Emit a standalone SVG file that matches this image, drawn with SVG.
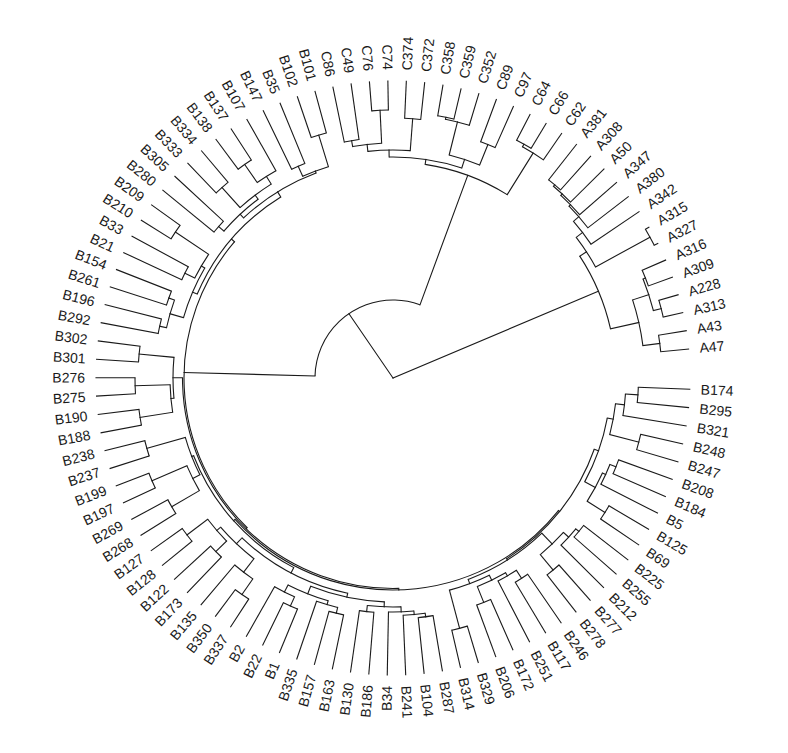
<svg xmlns="http://www.w3.org/2000/svg" width="788" height="753" viewBox="0 0 788 753">
<style>
.t line,.t circle{stroke:#1a1a1a;stroke-width:1.1;fill:none;stroke-linecap:square}
.t circle{stroke-linecap:butt}
text{font-family:"Liberation Sans",Arial,sans-serif;font-size:14px;fill:#1a1a1a}
.l{text-anchor:end}
</style>
<rect width="788" height="753" fill="#fff"/>
<g transform="translate(393 378)">
<g id="edges" class="t">
<line x1="0" x2="223" transform="rotate(-22.92)"/>
<circle r="223" pathLength="360" stroke-dasharray="20.40 360" transform="rotate(-33.12)"/>
<line x1="223" x2="252" transform="rotate(-12.72)"/>
<circle r="252" pathLength="360" stroke-dasharray="10.67 360" transform="rotate(-18.05)"/>
<line x1="252" x2="269" transform="rotate(-7.38)"/>
<circle r="269" pathLength="360" stroke-dasharray="3.56 360" transform="rotate(-9.16)"/>
<line x1="269" x2="297" transform="rotate(-5.60)"/>
<line x1="269" x2="297" transform="rotate(-9.16)"/>
<line x1="252" x2="269" transform="rotate(-18.05)"/>
<circle r="269" pathLength="360" stroke-dasharray="7.11 360" transform="rotate(-21.61)"/>
<line x1="269" x2="277" transform="rotate(-14.50)"/>
<circle r="277" pathLength="360" stroke-dasharray="3.55 360" transform="rotate(-16.27)"/>
<line x1="277" x2="297" transform="rotate(-12.72)"/>
<line x1="277" x2="297" transform="rotate(-16.27)"/>
<line x1="269" x2="271.5" transform="rotate(-21.61)"/>
<circle r="271.5" pathLength="360" stroke-dasharray="3.56 360" transform="rotate(-23.39)"/>
<line x1="271.5" x2="297" transform="rotate(-19.83)"/>
<line x1="271.5" x2="297" transform="rotate(-23.39)"/>
<line x1="223" x2="231" transform="rotate(-33.12)"/>
<circle r="231" pathLength="360" stroke-dasharray="8.78 360" transform="rotate(-37.51)"/>
<line x1="231" x2="293" transform="rotate(-28.73)"/>
<circle r="293" pathLength="360" stroke-dasharray="3.56 360" transform="rotate(-30.51)"/>
<line x1="293" x2="297" transform="rotate(-26.95)"/>
<line x1="293" x2="297" transform="rotate(-30.51)"/>
<line x1="231" x2="239" transform="rotate(-37.51)"/>
<circle r="239" pathLength="360" stroke-dasharray="6.90 360" transform="rotate(-40.96)"/>
<line x1="239" x2="297" transform="rotate(-34.06)"/>
<line x1="239" x2="246" transform="rotate(-40.96)"/>
<circle r="246" pathLength="360" stroke-dasharray="6.68 360" transform="rotate(-44.30)"/>
<line x1="246" x2="297" transform="rotate(-37.62)"/>
<line x1="246" x2="248" transform="rotate(-44.30)"/>
<circle r="248" pathLength="360" stroke-dasharray="6.23 360" transform="rotate(-47.41)"/>
<line x1="248" x2="297" transform="rotate(-41.18)"/>
<line x1="248" x2="250" transform="rotate(-47.41)"/>
<circle r="250" pathLength="360" stroke-dasharray="5.34 360" transform="rotate(-50.08)"/>
<line x1="250" x2="297" transform="rotate(-44.74)"/>
<line x1="250" x2="252" transform="rotate(-50.08)"/>
<circle r="252" pathLength="360" stroke-dasharray="3.55 360" transform="rotate(-51.85)"/>
<line x1="252" x2="297" transform="rotate(-48.30)"/>
<line x1="252" x2="297" transform="rotate(-51.85)"/>
<line x1="0" x2="78" transform="rotate(-124.4)"/>
<circle r="78" pathLength="360" stroke-dasharray="108.74 360" transform="rotate(-178.5)"/>
<line x1="78" x2="216" transform="rotate(-69.76)"/>
<circle r="216" pathLength="360" stroke-dasharray="23.36 360" transform="rotate(-81.44)"/>
<line x1="216" x2="221" transform="rotate(-81.44)"/>
<circle r="221" pathLength="360" stroke-dasharray="19.13 360" transform="rotate(-91.0)"/>
<line x1="221" x2="228" transform="rotate(-91.0)"/>
<circle r="228" pathLength="360" stroke-dasharray="10.67 360" transform="rotate(-96.33)"/>
<line x1="228" x2="235" transform="rotate(-96.33)"/>
<circle r="235" pathLength="360" stroke-dasharray="7.12 360" transform="rotate(-99.89)"/>
<line x1="235" x2="241" transform="rotate(-99.89)"/>
<circle r="241" pathLength="360" stroke-dasharray="3.56 360" transform="rotate(-101.67)"/>
<line x1="241" x2="297" transform="rotate(-98.11)"/>
<line x1="241" x2="297" transform="rotate(-101.67)"/>
<line x1="235" x2="268" transform="rotate(-92.77)"/>
<circle r="268" pathLength="360" stroke-dasharray="3.56 360" transform="rotate(-94.55)"/>
<line x1="268" x2="297" transform="rotate(-90.99)"/>
<line x1="268" x2="297" transform="rotate(-94.55)"/>
<line x1="228" x2="260" transform="rotate(-85.66)"/>
<circle r="260" pathLength="360" stroke-dasharray="3.55 360" transform="rotate(-87.43)"/>
<line x1="260" x2="297" transform="rotate(-83.88)"/>
<line x1="260" x2="297" transform="rotate(-87.43)"/>
<line x1="221" x2="230" transform="rotate(-71.87)"/>
<circle r="230" pathLength="360" stroke-dasharray="8.0 360" transform="rotate(-75.87)"/>
<line x1="230" x2="264" transform="rotate(-75.87)"/>
<circle r="264" pathLength="360" stroke-dasharray="5.34 360" transform="rotate(-78.54)"/>
<line x1="264" x2="266" transform="rotate(-78.54)"/>
<circle r="266" pathLength="360" stroke-dasharray="3.56 360" transform="rotate(-80.32)"/>
<line x1="266" x2="297" transform="rotate(-76.76)"/>
<line x1="266" x2="297" transform="rotate(-80.32)"/>
<line x1="264" x2="297" transform="rotate(-73.20)"/>
<line x1="230" x2="252" transform="rotate(-67.87)"/>
<circle r="252" pathLength="360" stroke-dasharray="3.55 360" transform="rotate(-69.64)"/>
<line x1="252" x2="297" transform="rotate(-66.09)"/>
<line x1="252" x2="297" transform="rotate(-69.64)"/>
<line x1="216" x2="265" transform="rotate(-58.08)"/>
<circle r="265" pathLength="360" stroke-dasharray="5.34 360" transform="rotate(-60.75)"/>
<line x1="265" x2="297" transform="rotate(-55.41)"/>
<line x1="265" x2="268" transform="rotate(-60.75)"/>
<circle r="268" pathLength="360" stroke-dasharray="3.56 360" transform="rotate(-62.53)"/>
<line x1="268" x2="297" transform="rotate(-58.97)"/>
<line x1="268" x2="297" transform="rotate(-62.53)"/>
<line x1="78" x2="209" transform="rotate(-178.5)"/>
<circle r="209" pathLength="360" stroke-dasharray="86.46 360" transform="rotate(-225.76)"/>
<line x1="209" x2="213" transform="rotate(-139.3)"/>
<circle r="213" pathLength="360" stroke-dasharray="35.01 360" transform="rotate(-156.8)"/>
<line x1="213" x2="219" transform="rotate(-121.79)"/>
<circle r="219" pathLength="360" stroke-dasharray="22.46 360" transform="rotate(-133.02)"/>
<line x1="219" x2="221" transform="rotate(-110.56)"/>
<circle r="221" pathLength="360" stroke-dasharray="7.12 360" transform="rotate(-114.12)"/>
<line x1="221" x2="254" transform="rotate(-107.0)"/>
<circle r="254" pathLength="360" stroke-dasharray="3.56 360" transform="rotate(-108.78)"/>
<line x1="254" x2="297" transform="rotate(-105.22)"/>
<line x1="254" x2="297" transform="rotate(-108.78)"/>
<line x1="221" x2="232" transform="rotate(-114.12)"/>
<circle r="232" pathLength="360" stroke-dasharray="3.56 360" transform="rotate(-115.90)"/>
<line x1="232" x2="297" transform="rotate(-112.34)"/>
<line x1="232" x2="297" transform="rotate(-115.90)"/>
<line x1="219" x2="224" transform="rotate(-133.02)"/>
<circle r="224" pathLength="360" stroke-dasharray="12.01 360" transform="rotate(-139.03)"/>
<line x1="224" x2="229" transform="rotate(-127.02)"/>
<circle r="229" pathLength="360" stroke-dasharray="9.78 360" transform="rotate(-131.91)"/>
<line x1="229" x2="238" transform="rotate(-122.13)"/>
<circle r="238" pathLength="360" stroke-dasharray="5.33 360" transform="rotate(-124.79)"/>
<line x1="238" x2="297" transform="rotate(-119.46)"/>
<line x1="238" x2="260" transform="rotate(-124.79)"/>
<circle r="260" pathLength="360" stroke-dasharray="3.56 360" transform="rotate(-126.57)"/>
<line x1="260" x2="297" transform="rotate(-123.01)"/>
<line x1="260" x2="297" transform="rotate(-126.57)"/>
<line x1="229" x2="256" transform="rotate(-131.91)"/>
<circle r="256" pathLength="360" stroke-dasharray="3.56 360" transform="rotate(-133.69)"/>
<line x1="256" x2="297" transform="rotate(-130.13)"/>
<line x1="256" x2="297" transform="rotate(-133.69)"/>
<line x1="224" x2="231" transform="rotate(-139.03)"/>
<circle r="231" pathLength="360" stroke-dasharray="3.55 360" transform="rotate(-140.80)"/>
<line x1="231" x2="297" transform="rotate(-137.25)"/>
<line x1="231" x2="297" transform="rotate(-140.80)"/>
<line x1="213" x2="218" transform="rotate(-156.8)"/>
<circle r="218" pathLength="360" stroke-dasharray="14.23 360" transform="rotate(-163.93)"/>
<line x1="218" x2="222" transform="rotate(-149.7)"/>
<circle r="222" pathLength="360" stroke-dasharray="7.12 360" transform="rotate(-153.26)"/>
<line x1="222" x2="262" transform="rotate(-146.14)"/>
<circle r="262" pathLength="360" stroke-dasharray="3.56 360" transform="rotate(-147.92)"/>
<line x1="262" x2="297" transform="rotate(-144.36)"/>
<line x1="262" x2="297" transform="rotate(-147.92)"/>
<line x1="222" x2="233" transform="rotate(-153.26)"/>
<circle r="233" pathLength="360" stroke-dasharray="3.56 360" transform="rotate(-155.04)"/>
<line x1="233" x2="297" transform="rotate(-151.48)"/>
<line x1="233" x2="297" transform="rotate(-155.04)"/>
<line x1="218" x2="232" transform="rotate(-163.93)"/>
<circle r="232" pathLength="360" stroke-dasharray="7.12 360" transform="rotate(-167.49)"/>
<line x1="232" x2="238" transform="rotate(-160.37)"/>
<circle r="238" pathLength="360" stroke-dasharray="3.56 360" transform="rotate(-162.15)"/>
<line x1="238" x2="297" transform="rotate(-158.59)"/>
<line x1="238" x2="297" transform="rotate(-162.15)"/>
<line x1="232" x2="239" transform="rotate(-167.49)"/>
<circle r="239" pathLength="360" stroke-dasharray="3.56 360" transform="rotate(-169.27)"/>
<line x1="239" x2="297" transform="rotate(-165.71)"/>
<line x1="239" x2="297" transform="rotate(-169.27)"/>
<line x1="209" x2="210.5" transform="rotate(-225.76)"/>
<circle r="210.5" pathLength="360" stroke-dasharray="91.62 360" transform="rotate(-271.57)"/>
<line x1="210.5" x2="220" transform="rotate(-179.95)"/>
<circle r="220" pathLength="360" stroke-dasharray="10.67 360" transform="rotate(-185.28)"/>
<line x1="220" x2="255" transform="rotate(-174.61)"/>
<circle r="255" pathLength="360" stroke-dasharray="3.55 360" transform="rotate(-176.38)"/>
<line x1="255" x2="297" transform="rotate(-172.83)"/>
<line x1="255" x2="297" transform="rotate(-176.38)"/>
<line x1="220" x2="223" transform="rotate(-185.28)"/>
<circle r="223" pathLength="360" stroke-dasharray="7.12 360" transform="rotate(-188.84)"/>
<line x1="223" x2="258" transform="rotate(-181.72)"/>
<circle r="258" pathLength="360" stroke-dasharray="3.56 360" transform="rotate(-183.50)"/>
<line x1="258" x2="297" transform="rotate(-179.94)"/>
<line x1="258" x2="297" transform="rotate(-183.50)"/>
<line x1="223" x2="256" transform="rotate(-188.84)"/>
<circle r="256" pathLength="360" stroke-dasharray="3.56 360" transform="rotate(-190.62)"/>
<line x1="256" x2="297" transform="rotate(-187.06)"/>
<line x1="256" x2="297" transform="rotate(-190.62)"/>
<line x1="210.5" x2="212" transform="rotate(-271.57)"/>
<circle r="212" pathLength="360" stroke-dasharray="99.47 360" transform="rotate(-321.3)"/>
<line x1="212" x2="214" transform="rotate(-221.83)"/>
<circle r="214" pathLength="360" stroke-dasharray="41.09 360" transform="rotate(-242.38)"/>
<line x1="214" x2="216" transform="rotate(-201.29)"/>
<circle r="216" pathLength="360" stroke-dasharray="10.68 360" transform="rotate(-206.63)"/>
<line x1="216" x2="256" transform="rotate(-195.95)"/>
<circle r="256" pathLength="360" stroke-dasharray="3.56 360" transform="rotate(-197.73)"/>
<line x1="256" x2="297" transform="rotate(-194.17)"/>
<line x1="256" x2="297" transform="rotate(-197.73)"/>
<line x1="216" x2="224" transform="rotate(-206.63)"/>
<circle r="224" pathLength="360" stroke-dasharray="7.12 360" transform="rotate(-210.19)"/>
<line x1="224" x2="262" transform="rotate(-203.07)"/>
<circle r="262" pathLength="360" stroke-dasharray="3.56 360" transform="rotate(-204.85)"/>
<line x1="262" x2="297" transform="rotate(-201.29)"/>
<line x1="262" x2="297" transform="rotate(-204.85)"/>
<line x1="224" x2="256" transform="rotate(-210.19)"/>
<circle r="256" pathLength="360" stroke-dasharray="3.55 360" transform="rotate(-211.96)"/>
<line x1="256" x2="297" transform="rotate(-208.41)"/>
<line x1="256" x2="297" transform="rotate(-211.96)"/>
<line x1="214" x2="220" transform="rotate(-242.38)"/>
<circle r="220" pathLength="360" stroke-dasharray="31.47 360" transform="rotate(-258.11)"/>
<line x1="220" x2="228" transform="rotate(-226.64)"/>
<circle r="228" pathLength="360" stroke-dasharray="11.56 360" transform="rotate(-232.42)"/>
<line x1="228" x2="233" transform="rotate(-220.86)"/>
<circle r="233" pathLength="360" stroke-dasharray="7.12 360" transform="rotate(-224.42)"/>
<line x1="233" x2="259" transform="rotate(-217.3)"/>
<circle r="259" pathLength="360" stroke-dasharray="3.56 360" transform="rotate(-219.08)"/>
<line x1="259" x2="297" transform="rotate(-215.52)"/>
<line x1="259" x2="297" transform="rotate(-219.08)"/>
<line x1="233" x2="248" transform="rotate(-224.42)"/>
<circle r="248" pathLength="360" stroke-dasharray="3.56 360" transform="rotate(-226.20)"/>
<line x1="248" x2="297" transform="rotate(-222.64)"/>
<line x1="248" x2="297" transform="rotate(-226.20)"/>
<line x1="228" x2="245" transform="rotate(-232.42)"/>
<circle r="245" pathLength="360" stroke-dasharray="5.34 360" transform="rotate(-235.09)"/>
<line x1="245" x2="297" transform="rotate(-229.75)"/>
<line x1="245" x2="264" transform="rotate(-235.09)"/>
<circle r="264" pathLength="360" stroke-dasharray="3.56 360" transform="rotate(-236.87)"/>
<line x1="264" x2="297" transform="rotate(-233.31)"/>
<line x1="264" x2="297" transform="rotate(-236.87)"/>
<line x1="220" x2="224" transform="rotate(-258.11)"/>
<circle r="224" pathLength="360" stroke-dasharray="19.34 360" transform="rotate(-267.78)"/>
<line x1="224" x2="232" transform="rotate(-248.44)"/>
<circle r="232" pathLength="360" stroke-dasharray="10.67 360" transform="rotate(-253.77)"/>
<line x1="232" x2="240" transform="rotate(-243.1)"/>
<circle r="240" pathLength="360" stroke-dasharray="5.34 360" transform="rotate(-245.77)"/>
<line x1="240" x2="297" transform="rotate(-240.43)"/>
<line x1="240" x2="250" transform="rotate(-245.77)"/>
<circle r="250" pathLength="360" stroke-dasharray="3.55 360" transform="rotate(-247.54)"/>
<line x1="250" x2="297" transform="rotate(-243.99)"/>
<line x1="250" x2="297" transform="rotate(-247.54)"/>
<line x1="232" x2="236" transform="rotate(-253.77)"/>
<circle r="236" pathLength="360" stroke-dasharray="5.34 360" transform="rotate(-256.44)"/>
<line x1="236" x2="297" transform="rotate(-251.10)"/>
<line x1="236" x2="242" transform="rotate(-256.44)"/>
<circle r="242" pathLength="360" stroke-dasharray="3.56 360" transform="rotate(-258.22)"/>
<line x1="242" x2="297" transform="rotate(-254.66)"/>
<line x1="242" x2="297" transform="rotate(-258.22)"/>
<line x1="224" x2="229" transform="rotate(-267.78)"/>
<circle r="229" pathLength="360" stroke-dasharray="8.44 360" transform="rotate(-272.0)"/>
<line x1="229" x2="235" transform="rotate(-263.56)"/>
<circle r="235" pathLength="360" stroke-dasharray="3.55 360" transform="rotate(-265.33)"/>
<line x1="235" x2="297" transform="rotate(-261.78)"/>
<line x1="235" x2="297" transform="rotate(-265.33)"/>
<line x1="229" x2="234" transform="rotate(-272.0)"/>
<circle r="234" pathLength="360" stroke-dasharray="6.23 360" transform="rotate(-275.12)"/>
<line x1="234" x2="297" transform="rotate(-268.89)"/>
<line x1="234" x2="237.5" transform="rotate(-275.12)"/>
<circle r="237.5" pathLength="360" stroke-dasharray="5.34 360" transform="rotate(-277.79)"/>
<line x1="237.5" x2="297" transform="rotate(-272.45)"/>
<line x1="237.5" x2="241" transform="rotate(-277.79)"/>
<circle r="241" pathLength="360" stroke-dasharray="3.56 360" transform="rotate(-279.57)"/>
<line x1="241" x2="297" transform="rotate(-276.01)"/>
<line x1="241" x2="297" transform="rotate(-279.57)"/>
<line x1="212" x2="213.5" transform="rotate(-321.3)"/>
<circle r="213.5" pathLength="360" stroke-dasharray="38.36 360" transform="rotate(-340.5)"/>
<line x1="213.5" x2="215" transform="rotate(-302.14)"/>
<circle r="215" pathLength="360" stroke-dasharray="23.35 360" transform="rotate(-313.81)"/>
<line x1="215" x2="219.5" transform="rotate(-290.46)"/>
<circle r="219.5" pathLength="360" stroke-dasharray="11.13 360" transform="rotate(-296.03)"/>
<line x1="219.5" x2="259" transform="rotate(-284.9)"/>
<circle r="259" pathLength="360" stroke-dasharray="3.56 360" transform="rotate(-286.68)"/>
<line x1="259" x2="297" transform="rotate(-283.12)"/>
<line x1="259" x2="297" transform="rotate(-286.68)"/>
<line x1="219.5" x2="225" transform="rotate(-296.03)"/>
<circle r="225" pathLength="360" stroke-dasharray="8.01 360" transform="rotate(-300.03)"/>
<line x1="225" x2="242" transform="rotate(-292.02)"/>
<circle r="242" pathLength="360" stroke-dasharray="3.56 360" transform="rotate(-293.80)"/>
<line x1="242" x2="297" transform="rotate(-290.24)"/>
<line x1="242" x2="297" transform="rotate(-293.80)"/>
<line x1="225" x2="228.5" transform="rotate(-300.03)"/>
<circle r="228.5" pathLength="360" stroke-dasharray="5.33 360" transform="rotate(-302.69)"/>
<line x1="228.5" x2="297" transform="rotate(-297.36)"/>
<line x1="228.5" x2="238" transform="rotate(-302.69)"/>
<circle r="238" pathLength="360" stroke-dasharray="3.56 360" transform="rotate(-304.47)"/>
<line x1="238" x2="297" transform="rotate(-300.91)"/>
<line x1="238" x2="297" transform="rotate(-304.47)"/>
<line x1="215" x2="230" transform="rotate(-313.81)"/>
<circle r="230" pathLength="360" stroke-dasharray="8.01 360" transform="rotate(-317.82)"/>
<line x1="230" x2="250" transform="rotate(-309.81)"/>
<circle r="250" pathLength="360" stroke-dasharray="3.56 360" transform="rotate(-311.59)"/>
<line x1="250" x2="297" transform="rotate(-308.03)"/>
<line x1="250" x2="297" transform="rotate(-311.59)"/>
<line x1="230" x2="237" transform="rotate(-317.82)"/>
<circle r="237" pathLength="360" stroke-dasharray="5.33 360" transform="rotate(-320.48)"/>
<line x1="237" x2="297" transform="rotate(-315.15)"/>
<line x1="237" x2="241" transform="rotate(-320.48)"/>
<circle r="241" pathLength="360" stroke-dasharray="3.56 360" transform="rotate(-322.26)"/>
<line x1="241" x2="297" transform="rotate(-318.70)"/>
<line x1="241" x2="297" transform="rotate(-322.26)"/>
<line x1="213.5" x2="218" transform="rotate(-340.5)"/>
<circle r="218" pathLength="360" stroke-dasharray="17.8 360" transform="rotate(-349.4)"/>
<line x1="218" x2="230" transform="rotate(-331.6)"/>
<circle r="230" pathLength="360" stroke-dasharray="8.0 360" transform="rotate(-335.6)"/>
<line x1="230" x2="233.5" transform="rotate(-335.6)"/>
<circle r="233.5" pathLength="360" stroke-dasharray="5.33 360" transform="rotate(-338.27)"/>
<line x1="233.5" x2="297" transform="rotate(-332.94)"/>
<line x1="233.5" x2="240" transform="rotate(-338.27)"/>
<circle r="240" pathLength="360" stroke-dasharray="3.56 360" transform="rotate(-340.05)"/>
<line x1="240" x2="297" transform="rotate(-336.49)"/>
<line x1="240" x2="297" transform="rotate(-340.05)"/>
<line x1="230" x2="251" transform="rotate(-327.6)"/>
<circle r="251" pathLength="360" stroke-dasharray="3.56 360" transform="rotate(-329.38)"/>
<line x1="251" x2="297" transform="rotate(-325.82)"/>
<line x1="251" x2="297" transform="rotate(-329.38)"/>
<line x1="218" x2="224" transform="rotate(-349.4)"/>
<circle r="224" pathLength="360" stroke-dasharray="8.01 360" transform="rotate(-353.4)"/>
<line x1="224" x2="254" transform="rotate(-345.39)"/>
<circle r="254" pathLength="360" stroke-dasharray="3.56 360" transform="rotate(-347.17)"/>
<line x1="254" x2="297" transform="rotate(-343.61)"/>
<line x1="254" x2="297" transform="rotate(-347.17)"/>
<line x1="224" x2="233" transform="rotate(-353.4)"/>
<circle r="233" pathLength="360" stroke-dasharray="5.33 360" transform="rotate(-356.06)"/>
<line x1="233" x2="297" transform="rotate(-350.73)"/>
<line x1="233" x2="245.5" transform="rotate(-356.06)"/>
<circle r="245.5" pathLength="360" stroke-dasharray="3.56 360" transform="rotate(-357.84)"/>
<line x1="245.5" x2="297" transform="rotate(-354.28)"/>
<line x1="245.5" x2="297" transform="rotate(-357.84)"/>
</g>
<g id="leaves">
<g id="n-A47"><text x="308" dy=".35em" transform="rotate(-5.60)">A47</text></g>
<g id="n-A43"><text x="308" dy=".35em" transform="rotate(-9.16)">A43</text></g>
<g id="n-A313"><text x="308" dy=".35em" transform="rotate(-12.72)">A313</text></g>
<g id="n-A228"><text x="308" dy=".35em" transform="rotate(-16.27)">A228</text></g>
<g id="n-A309"><text x="308" dy=".35em" transform="rotate(-19.83)">A309</text></g>
<g id="n-A316"><text x="308" dy=".35em" transform="rotate(-23.39)">A316</text></g>
<g id="n-A327"><text x="308" dy=".35em" transform="rotate(-26.95)">A327</text></g>
<g id="n-A315"><text x="308" dy=".35em" transform="rotate(-30.51)">A315</text></g>
<g id="n-A342"><text x="308" dy=".35em" transform="rotate(-34.06)">A342</text></g>
<g id="n-A380"><text x="308" dy=".35em" transform="rotate(-37.62)">A380</text></g>
<g id="n-A347"><text x="308" dy=".35em" transform="rotate(-41.18)">A347</text></g>
<g id="n-A50"><text x="308" dy=".35em" transform="rotate(-44.74)">A50</text></g>
<g id="n-A308"><text x="308" dy=".35em" transform="rotate(-48.30)">A308</text></g>
<g id="n-A381"><text x="308" dy=".35em" transform="rotate(-51.85)">A381</text></g>
<g id="n-C62"><text x="308" dy=".35em" transform="rotate(-55.41)">C62</text></g>
<g id="n-C66"><text x="308" dy=".35em" transform="rotate(-58.97)">C66</text></g>
<g id="n-C64"><text x="308" dy=".35em" transform="rotate(-62.53)">C64</text></g>
<g id="n-C97"><text x="308" dy=".35em" transform="rotate(-66.09)">C97</text></g>
<g id="n-C89"><text x="308" dy=".35em" transform="rotate(-69.64)">C89</text></g>
<g id="n-C352"><text x="308" dy=".35em" transform="rotate(-73.20)">C352</text></g>
<g id="n-C359"><text x="308" dy=".35em" transform="rotate(-76.76)">C359</text></g>
<g id="n-C358"><text x="308" dy=".35em" transform="rotate(-80.32)">C358</text></g>
<g id="n-C372"><text x="308" dy=".35em" transform="rotate(-83.88)">C372</text></g>
<g id="n-C374"><text x="308" dy=".35em" transform="rotate(-87.43)">C374</text></g>
<g id="n-C74"><text x="-308" dy=".35em" class="l" transform="rotate(89.01)">C74</text></g>
<g id="n-C76"><text x="-308" dy=".35em" class="l" transform="rotate(85.45)">C76</text></g>
<g id="n-C49"><text x="-308" dy=".35em" class="l" transform="rotate(81.89)">C49</text></g>
<g id="n-C86"><text x="-308" dy=".35em" class="l" transform="rotate(78.33)">C86</text></g>
<g id="n-B101"><text x="-308" dy=".35em" class="l" transform="rotate(74.78)">B101</text></g>
<g id="n-B102"><text x="-308" dy=".35em" class="l" transform="rotate(71.22)">B102</text></g>
<g id="n-B35"><text x="-308" dy=".35em" class="l" transform="rotate(67.66)">B35</text></g>
<g id="n-B147"><text x="-308" dy=".35em" class="l" transform="rotate(64.10)">B147</text></g>
<g id="n-B107"><text x="-308" dy=".35em" class="l" transform="rotate(60.54)">B107</text></g>
<g id="n-B137"><text x="-308" dy=".35em" class="l" transform="rotate(56.99)">B137</text></g>
<g id="n-B138"><text x="-308" dy=".35em" class="l" transform="rotate(53.43)">B138</text></g>
<g id="n-B334"><text x="-308" dy=".35em" class="l" transform="rotate(49.87)">B334</text></g>
<g id="n-B333"><text x="-308" dy=".35em" class="l" transform="rotate(46.31)">B333</text></g>
<g id="n-B305"><text x="-308" dy=".35em" class="l" transform="rotate(42.75)">B305</text></g>
<g id="n-B280"><text x="-308" dy=".35em" class="l" transform="rotate(39.20)">B280</text></g>
<g id="n-B209"><text x="-308" dy=".35em" class="l" transform="rotate(35.64)">B209</text></g>
<g id="n-B210"><text x="-308" dy=".35em" class="l" transform="rotate(32.08)">B210</text></g>
<g id="n-B33"><text x="-308" dy=".35em" class="l" transform="rotate(28.52)">B33</text></g>
<g id="n-B21"><text x="-308" dy=".35em" class="l" transform="rotate(24.96)">B21</text></g>
<g id="n-B154"><text x="-308" dy=".35em" class="l" transform="rotate(21.41)">B154</text></g>
<g id="n-B261"><text x="-308" dy=".35em" class="l" transform="rotate(17.85)">B261</text></g>
<g id="n-B196"><text x="-308" dy=".35em" class="l" transform="rotate(14.29)">B196</text></g>
<g id="n-B292"><text x="-308" dy=".35em" class="l" transform="rotate(10.73)">B292</text></g>
<g id="n-B302"><text x="-308" dy=".35em" class="l" transform="rotate(7.17)">B302</text></g>
<g id="n-B301"><text x="-308" dy=".35em" class="l" transform="rotate(3.62)">B301</text></g>
<g id="n-B276"><text x="-308" dy=".35em" class="l" transform="rotate(0.06)">B276</text></g>
<g id="n-B275"><text x="-308" dy=".35em" class="l" transform="rotate(-3.50)">B275</text></g>
<g id="n-B190"><text x="-308" dy=".35em" class="l" transform="rotate(-7.06)">B190</text></g>
<g id="n-B188"><text x="-308" dy=".35em" class="l" transform="rotate(-10.62)">B188</text></g>
<g id="n-B238"><text x="-308" dy=".35em" class="l" transform="rotate(-14.17)">B238</text></g>
<g id="n-B237"><text x="-308" dy=".35em" class="l" transform="rotate(-17.73)">B237</text></g>
<g id="n-B199"><text x="-308" dy=".35em" class="l" transform="rotate(-21.29)">B199</text></g>
<g id="n-B197"><text x="-308" dy=".35em" class="l" transform="rotate(-24.85)">B197</text></g>
<g id="n-B269"><text x="-308" dy=".35em" class="l" transform="rotate(-28.41)">B269</text></g>
<g id="n-B268"><text x="-308" dy=".35em" class="l" transform="rotate(-31.96)">B268</text></g>
<g id="n-B127"><text x="-308" dy=".35em" class="l" transform="rotate(-35.52)">B127</text></g>
<g id="n-B128"><text x="-308" dy=".35em" class="l" transform="rotate(-39.08)">B128</text></g>
<g id="n-B122"><text x="-308" dy=".35em" class="l" transform="rotate(-42.64)">B122</text></g>
<g id="n-B173"><text x="-308" dy=".35em" class="l" transform="rotate(-46.20)">B173</text></g>
<g id="n-B135"><text x="-308" dy=".35em" class="l" transform="rotate(-49.75)">B135</text></g>
<g id="n-B350"><text x="-308" dy=".35em" class="l" transform="rotate(-53.31)">B350</text></g>
<g id="n-B337"><text x="-308" dy=".35em" class="l" transform="rotate(-56.87)">B337</text></g>
<g id="n-B2"><text x="-308" dy=".35em" class="l" transform="rotate(-60.43)">B2</text></g>
<g id="n-B22"><text x="-308" dy=".35em" class="l" transform="rotate(-63.99)">B22</text></g>
<g id="n-B1"><text x="-308" dy=".35em" class="l" transform="rotate(-67.54)">B1</text></g>
<g id="n-B335"><text x="-308" dy=".35em" class="l" transform="rotate(-71.10)">B335</text></g>
<g id="n-B157"><text x="-308" dy=".35em" class="l" transform="rotate(-74.66)">B157</text></g>
<g id="n-B163"><text x="-308" dy=".35em" class="l" transform="rotate(-78.22)">B163</text></g>
<g id="n-B130"><text x="-308" dy=".35em" class="l" transform="rotate(-81.78)">B130</text></g>
<g id="n-B186"><text x="-308" dy=".35em" class="l" transform="rotate(-85.33)">B186</text></g>
<g id="n-B34"><text x="-308" dy=".35em" class="l" transform="rotate(-88.89)">B34</text></g>
<g id="n-B241"><text x="308" dy=".35em" transform="rotate(-272.45)">B241</text></g>
<g id="n-B104"><text x="308" dy=".35em" transform="rotate(-276.01)">B104</text></g>
<g id="n-B287"><text x="308" dy=".35em" transform="rotate(-279.57)">B287</text></g>
<g id="n-B314"><text x="308" dy=".35em" transform="rotate(-283.12)">B314</text></g>
<g id="n-B329"><text x="308" dy=".35em" transform="rotate(-286.68)">B329</text></g>
<g id="n-B206"><text x="308" dy=".35em" transform="rotate(-290.24)">B206</text></g>
<g id="n-B172"><text x="308" dy=".35em" transform="rotate(-293.80)">B172</text></g>
<g id="n-B251"><text x="308" dy=".35em" transform="rotate(-297.36)">B251</text></g>
<g id="n-B117"><text x="308" dy=".35em" transform="rotate(-300.91)">B117</text></g>
<g id="n-B246"><text x="308" dy=".35em" transform="rotate(-304.47)">B246</text></g>
<g id="n-B278"><text x="308" dy=".35em" transform="rotate(-308.03)">B278</text></g>
<g id="n-B277"><text x="308" dy=".35em" transform="rotate(-311.59)">B277</text></g>
<g id="n-B212"><text x="308" dy=".35em" transform="rotate(-315.15)">B212</text></g>
<g id="n-B255"><text x="308" dy=".35em" transform="rotate(-318.70)">B255</text></g>
<g id="n-B225"><text x="308" dy=".35em" transform="rotate(-322.26)">B225</text></g>
<g id="n-B69"><text x="308" dy=".35em" transform="rotate(-325.82)">B69</text></g>
<g id="n-B125"><text x="308" dy=".35em" transform="rotate(-329.38)">B125</text></g>
<g id="n-B5"><text x="308" dy=".35em" transform="rotate(-332.94)">B5</text></g>
<g id="n-B184"><text x="308" dy=".35em" transform="rotate(-336.49)">B184</text></g>
<g id="n-B208"><text x="308" dy=".35em" transform="rotate(-340.05)">B208</text></g>
<g id="n-B247"><text x="308" dy=".35em" transform="rotate(-343.61)">B247</text></g>
<g id="n-B248"><text x="308" dy=".35em" transform="rotate(-347.17)">B248</text></g>
<g id="n-B321"><text x="308" dy=".35em" transform="rotate(-350.73)">B321</text></g>
<g id="n-B295"><text x="308" dy=".35em" transform="rotate(-354.28)">B295</text></g>
<g id="n-B174"><text x="308" dy=".35em" transform="rotate(-357.84)">B174</text></g>
</g>
</g>
</svg>
